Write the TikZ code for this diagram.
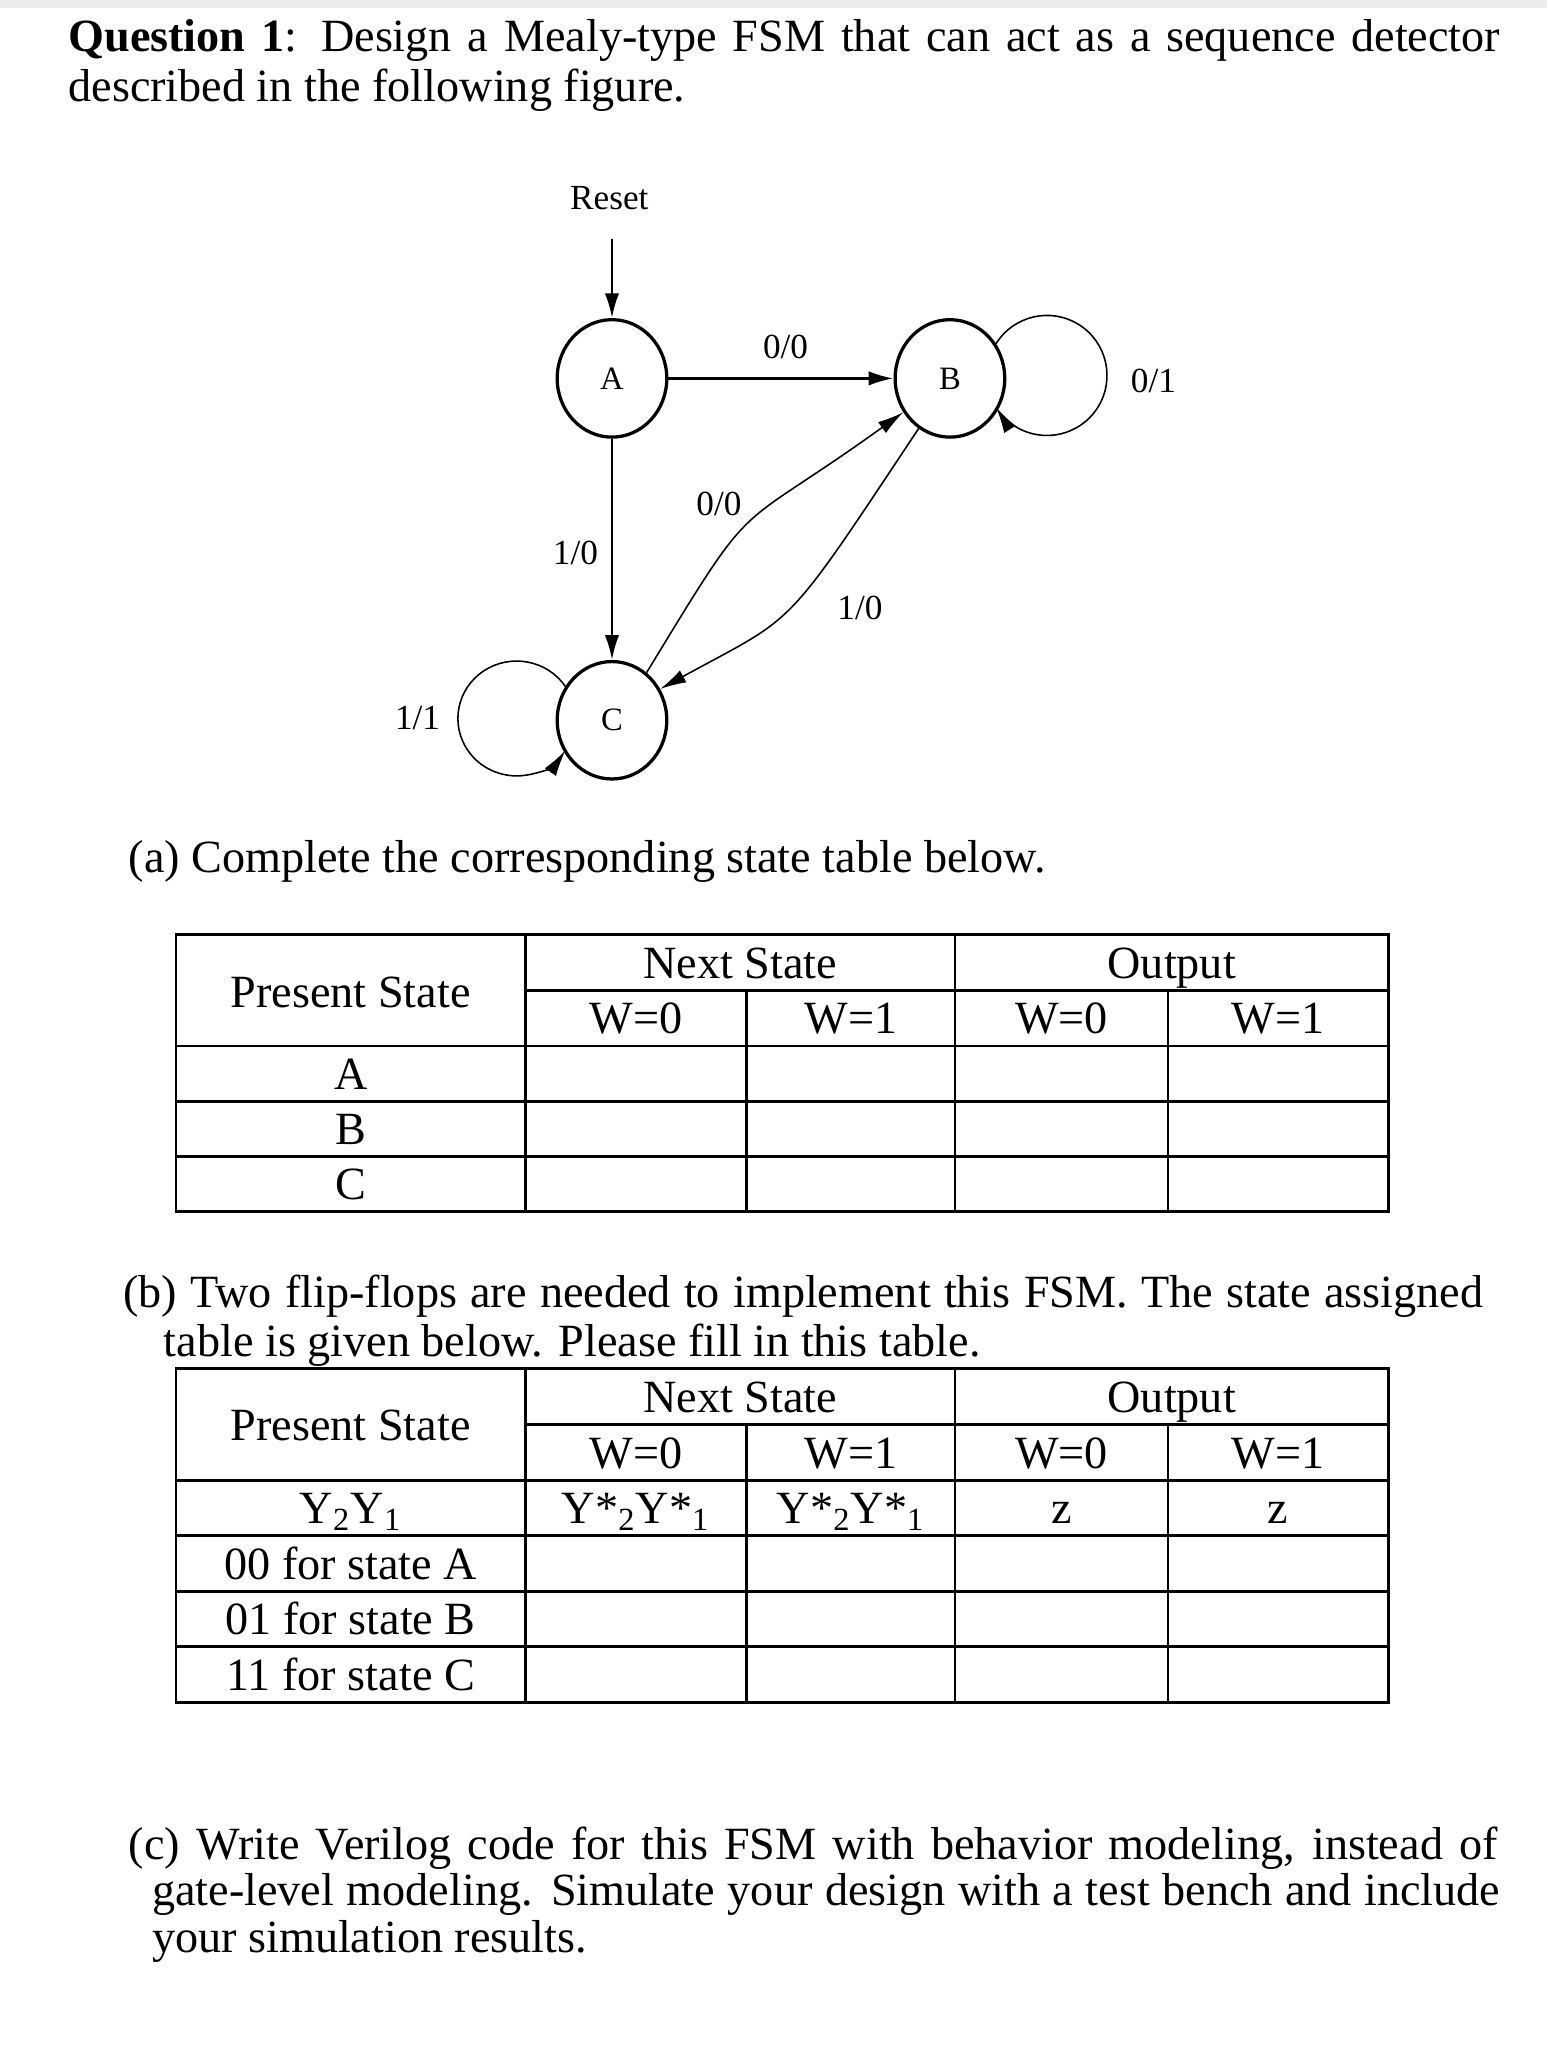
\documentclass[tikz,border=0pt]{standalone}
\usepackage{fontspec}
\setmainfont{Liberation Serif}
\usetikzlibrary{arrows.meta,shapes.geometric}

\tikzset{every picture/.style={line width=0.75pt}}
\tikzset{
  state/.style={draw,ellipse,line width=1.25pt,minimum width=42pt,minimum height=45pt,inner sep=0pt,font=\fontsize{12.5}{14}\selectfont},
  lbl/.style={inner sep=0pt,font=\fontsize{13.5}{15}\selectfont},
  txt/.style={anchor=base west,inner sep=0pt,font=\fontsize{17.7}{20}\selectfont},
  cell/.style={anchor=base,inner sep=0pt,font=\fontsize{17.7}{20}\selectfont},
  tip/.style={line width=1pt,-{Latex[length=9.5pt,width=5.5pt]}},
  thintip/.style={line width=0.6pt,-{Latex[length=10pt,width=5.2pt]}},
  grid/.style={line width=1pt}
}

\begin{document}
\begin{tikzpicture}[x=0.5pt,y=0.5pt,yscale=-1,xscale=1]
	\useasboundingbox (0,0) rectangle (1185.6,1568);
	%Shape: Rectangle
	\fill [gray!15] (0,0) rectangle (1185.6,6);

	% Text Node
	\draw (51.7,39.6) node [txt] (qa) {\makebox[548.6pt][s]{\textbf{Question 1}: Design a Mealy-type FSM that can act as a sequence detector}};
	% Text Node
	\draw (51.7,78) node [txt] (qb) {described in the following figure.};

	%Shape: States
	\node [state] (A) at (469,290) {A};
	\node [state] (B) at (728,290) {B};
	\node [state] (C) at (469,552) {C};
	% Text Node
	\node [lbl] (rst) at (467,152) {Reset};
	\coordinate (rstend) at (469,183);

	%Straight Lines
	\draw [tip] (rstend) -- (A.north);
	\draw [tip] (A.east) -- (B.west);
	\draw [tip] (A.south) -- (C.north);
	%Curve Lines
	\draw [thintip] (C.54) .. controls +(87,-143) and +(-135,97) .. (B.216);
	\draw [thintip] (B.238) .. controls +(-105,158) and +(106,-58) .. (C.33);
	%Curve Lines: self loops
	\draw [thintip] (B.37) arc [start angle=-148, end angle=148, x radius=46, y radius=46];
	\draw [thintip] (C.144) arc [start angle=-34, end angle=-326, x radius=45, y radius=44];

	% Text Node
	\node [lbl] (lab) at (602,266) {0/0};
	\node [lbl] (lbb) at (884,292) {0/1};
	\node [lbl] (lac) at (441,424) {1/0};
	\node [lbl] (lcb) at (551,386) {0/0};
	\node [lbl] (lbc) at (659,466) {1/0};
	\node [lbl] (lcc) at (320,550) {1/1};

	% Text Node
	\draw (98,669) node [txt] (qc) {(a) Complete the corresponding state table below.};

	%Table (a)
	\draw [grid] (135,716.3) rectangle (1064,928.4);
	\foreach \y in {801.6,844.1,886.2} \draw [grid] (135,\y) -- (1064,\y);
	\draw [grid] (402.5,759) -- (1064,759);
	\foreach \x in {402.5,732} \draw [grid] (\x,716.3) -- (\x,928.4);
	\foreach \x in {572,895} \draw [grid] (\x,759) -- (\x,928.4);

	\draw (268.75,772) node [cell] {Present State};
	\draw (567.25,749.7) node [cell] {Next State};
	\draw (898,749.7) node [cell] {Output};
	\foreach \x/\w in {487.25/0,652/1,813.5/0,979.5/1} \draw (\x,792.3) node [cell] {W=\w};
	\foreach \y/\s in {834.9/A,877.2/B,919.3/C} \draw (268.75,\y) node [cell] {\s};

	% Text Node
	\draw (93.9,1001.7) node [txt] (qd) {\makebox[521pt][s]{(b) Two flip-flops are needed to implement this FSM. The state assigned}};
	\draw (124.8,1039.6) node [txt] (qe) {table is given below. Please fill in this table.};

	%Table (b)
	\draw [grid] (135,1049) rectangle (1064,1304.6);
	\foreach \y in {1134.6,1176.8,1219.5,1261.9} \draw [grid] (135,\y) -- (1064,\y);
	\draw [grid] (402.5,1091.7) -- (1064,1091.7);
	\foreach \x in {402.5,732} \draw [grid] (\x,1049) -- (\x,1304.6);
	\foreach \x in {572,895} \draw [grid] (\x,1091.7) -- (\x,1304.6);

	\draw (268.75,1103.8) node [cell] {Present State};
	\draw (567.25,1082.4) node [cell] {Next State};
	\draw (898,1082.4) node [cell] {Output};
	\foreach \x/\w in {487.25/0,652/1,813.5/0,979.5/1} \draw (\x,1125.2) node [cell] {W=\w};
	\draw (268.75,1167.7) node [cell] {Y\textsubscript{2}Y\textsubscript{1}};
	\draw (487.25,1167.7) node [cell] {Y*\textsubscript{2}Y*\textsubscript{1}};
	\draw (652,1167.7) node [cell] {Y*\textsubscript{2}Y*\textsubscript{1}};
	\draw (813.5,1167.7) node [cell] {z};
	\draw (979.5,1167.7) node [cell] {z};
	\draw (268.75,1210.2) node [cell] {00 for state A};
	\draw (268.75,1252.7) node [cell] {01 for state B};
	\draw (268.75,1295.3) node [cell] {11 for state C};

	% Text Node
	\draw (98,1424.7) node [txt] (qf) {\makebox[524.5pt][s]{(c) Write Verilog code for this FSM with behavior modeling, instead of}};
	\draw (115.8,1460.5) node [txt] (qg) {\makebox[516.6pt][s]{gate-level modeling. Simulate your design with a test bench and include}};
	\draw (115.8,1496.2) node [txt] (qh) {your simulation results.};

\end{tikzpicture}
\end{document}
